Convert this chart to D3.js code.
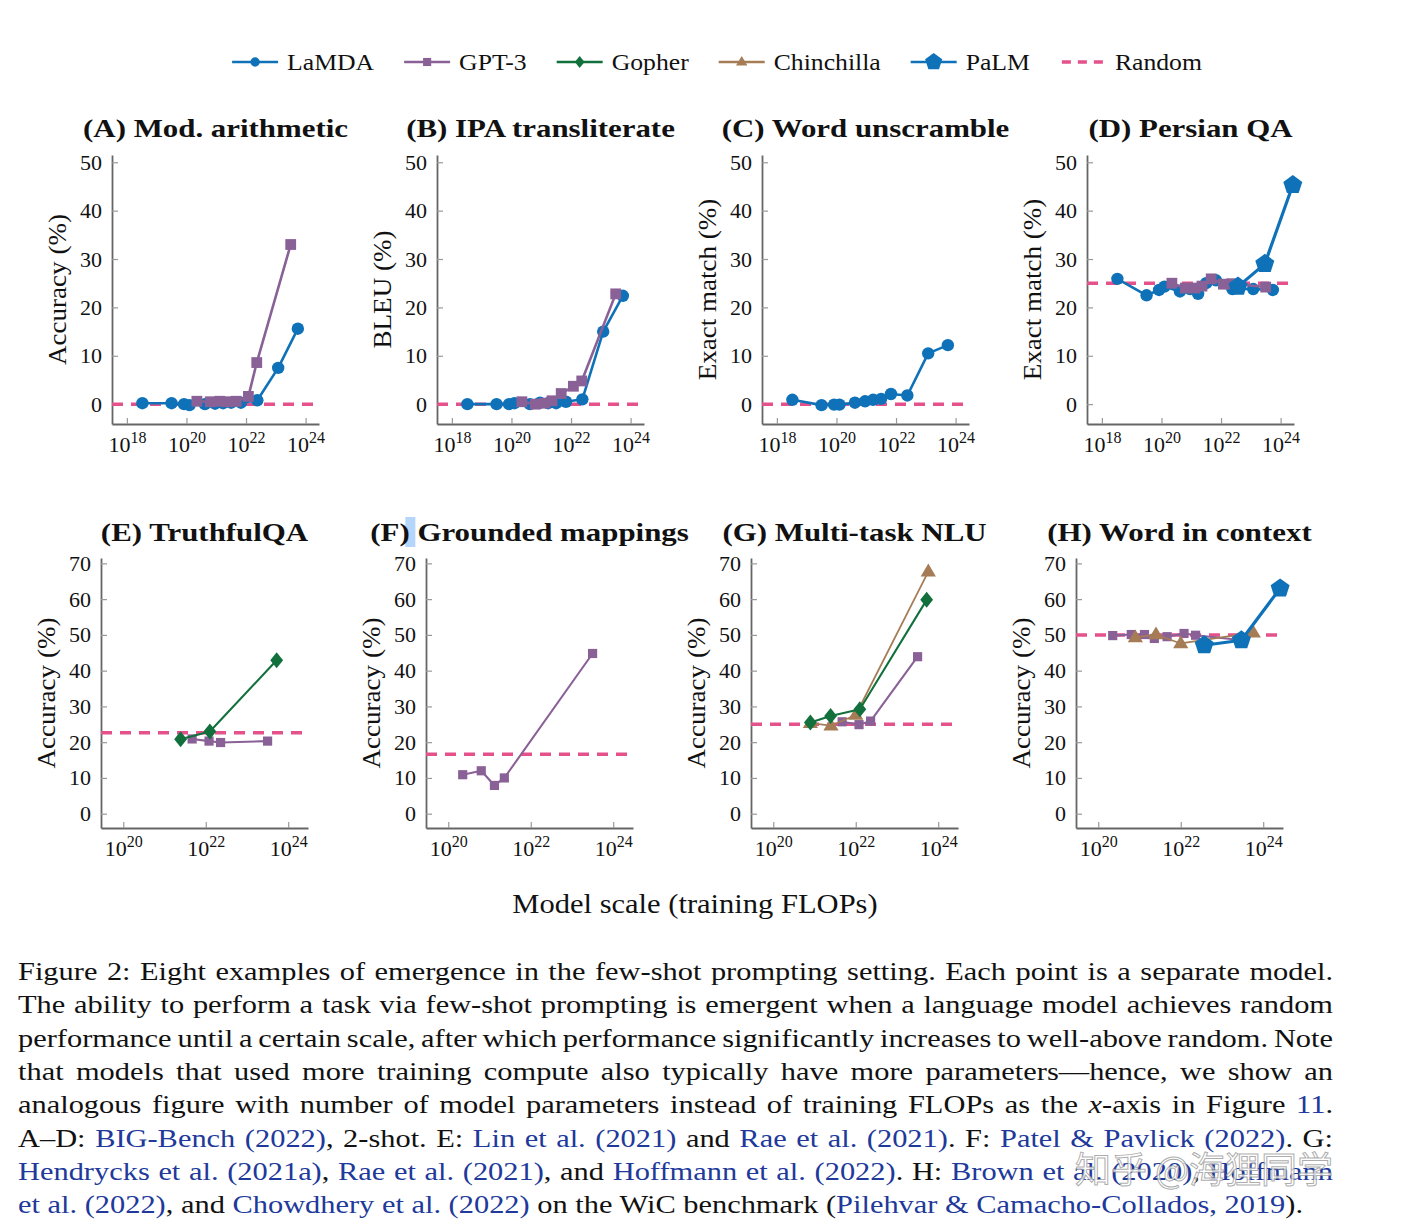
<!DOCTYPE html>
<html>
<head>
<meta charset="utf-8">
<script src="https://cdn.jsdelivr.net/npm/d3@7"></script>
<style>
  body { margin: 0; background: #fff; }
  text { font-family: "Liberation Serif", "DejaVu Serif", serif; fill: #111; }
</style>
</head>
<body>
<div id="chart"></div>
<script>
/* global d3 */

// Panels
const panelTitles = ['(A) Mod. arithmetic', '(B) IPA transliterate', '(C) Word unscramble', '(D) Persian QA',
  '(E) TruthfulQA', '(F) Grounded mappings', '(G) Multi-task NLU', '(H) Word in context']
const yLabels = ['Accuracy (%)', 'BLEU (%)', 'Exact match (%)', 'Exact match (%)',
  'Accuracy (%)', 'Accuracy (%)', 'Accuracy (%)', 'Accuracy (%)']
const topYTicks = [0, 10, 20, 30, 40, 50]
const bottomYTicks = [0, 10, 20, 30, 40, 50, 60, 70]
const topXTicks = [18, 20, 22, 24]
const bottomXTicks = [20, 22, 24]

// Training FLOPs of each model (log10)
const lamdaFlops = [18.52, 19.50, 19.92, 20.10, 20.62, 20.96, 21.23, 21.50, 21.83, 22.38, 23.08, 23.74]
const gpt3Flops = [20.35, 20.80, 21.12, 21.36, 21.67, 22.08, 22.36, 23.50]
const gopherFlops = [20.90, 21.39, 22.10, 23.72]
const chinchillaFlops = [20.90, 21.40, 22.00, 23.76]
const palmFlops = [22.57, 23.47, 24.41]

// Scores per panel (A..H), null = family not shown in that panel
const lamdaScores = [
  [0.2, 0.2, 0.0, -0.2, 0.0, 0.1, 0.2, 0.3, 0.3, 0.8, 7.5, 15.6],
  [0.0, 0.0, 0.0, 0.2, 0.0, 0.3, 0.2, 0.2, 0.5, 1.0, 15.0, 22.4],
  [0.9, -0.2, -0.1, -0.1, 0.3, 0.6, 0.9, 1.1, 2.1, 1.8, 10.5, 12.2],
  [25.9, 22.5, 23.6, 24.3, 23.3, 23.8, 22.8, 25.0, 25.6, 23.8, 23.8, 23.6],
  null, null, null, null
]
const gpt3Scores = [
  [0.6, 0.5, 0.6, 0.5, 0.6, 1.6, 8.6, 33.0],
  [0.5, 0.0, 0.2, 0.7, 2.2, 3.7, 4.8, 22.8],
  null,
  [25.0, 24.0, 24.0, 24.4, 25.9, 24.8, 24.9, 24.2],
  [null, null, null, null, 20.9, 20.3, 19.9, 20.3],
  [10.9, 12.0, 7.9, 10.0, null, null, null, 44.8],
  [null, null, null, null, 25.7, 24.9, 25.9, 43.9],
  [49.8, 50.1, 50.1, 49.0, 49.5, 50.4, 49.9, 48.5]
]
const gopherScores = [null, null, null, null, [null, 20.8, 23.0, 42.9], null, [25.5, 27.3, 29.2, 59.8], null]
const chinchillaScores = [null, null, null, null, null, null, [25.3, 24.6, 27.6, 67.7], [49.3, 50.1, 47.6, 50.6]]
const palmScores = [null, null, null, [24.3, 29.0, 45.3], null, null, null, [47.1, 48.5, 63.0]]
const randomScores = [0, 0, 0, 25, 22.6, 16.6, 25, 50]

// Legend
const legendNames = ['LaMDA', 'GPT-3', 'Gopher', 'Chinchilla', 'PaLM', 'Random']

// Caption lines: [text, kind] kind: 0 plain, 1 link, 2 italic
const captionLines = [
  [['Figure 2: Eight examples of emergence in the few-shot prompting setting. Each point is a separate model.', 0]],
  [['The ability to perform a task via few-shot prompting is emergent when a language model achieves random', 0]],
  [['performance until a certain scale, after which performance significantly increases to well-above random. Note', 0]],
  [['that models that used more training compute also typically have more parameters\u2014hence, we show an', 0]],
  [['analogous figure with number of model parameters instead of training FLOPs as the ', 0], ['x', 2], ['-axis in Figure ', 0], ['11', 1], ['.', 0]],
  [['A\u2013D: ', 0], ['BIG-Bench (2022)', 1], [', 2-shot. E: ', 0], ['Lin et al. (2021)', 1], [' and ', 0], ['Rae et al. (2021)', 1], ['. F: ', 0], ['Patel & Pavlick (2022)', 1], ['. G:', 0]],
  [['Hendrycks et al. (2021a)', 1], [', ', 0], ['Rae et al. (2021)', 1], [', and ', 0], ['Hoffmann et al. (2022)', 1], ['. H: ', 0], ['Brown et al. (2020)', 1], [', ', 0], ['Hoffmann', 1]],
  [['et al. (2022)', 1], [', and ', 0], ['Chowdhery et al. (2022)', 1], [' on the WiC benchmark (', 0], ['Pilehvar & Camacho-Collados, 2019', 1], [').', 0]]
]

// Styles
const styles = {
  'LaMDA': { color: '#0f72b8', shape: 'circle', size: 6.2, width: 2.6 },
  'GPT-3': { color: '#8a6196', shape: 'square', size: 5.4, width: 2.6 },
  'Gopher': { color: '#12703d', shape: 'diamond', size: 8, width: 2.6 },
  'Chinchilla': { color: '#a57c56', shape: 'triangle', size: 8, width: 2.2 },
  'PaLM': { color: '#0f72b8', shape: 'pentagon', size: 10, width: 3.2 },
  'Random': { color: '#e5528b' }
}

const width = 1422,
  height = 1230,
  panelW = 207

let svg = d3.select('#chart')
  .append('svg')
  .attr('width', width)
  .attr('height', height)

// widen a text like the extended Computer Modern faces of the original
let stretch = (sel, k) => {
  let n = sel.node().getComputedTextLength()
  sel.attr('textLength', n * k).attr('lengthAdjust', 'spacingAndGlyphs')
  return n * k
}

let polygon = (pts) => 'M' + pts.map(p => p.join(',')).join('L') + 'Z'

// marker of radius r for each shape
let markerPath = (name, k) => {
  let s = styles[name]
  let r = s.size * (k || 1)
  if (s.shape === 'circle') return d3.symbol(d3.symbolCircle, Math.PI * r * r)()
  if (s.shape === 'square') return polygon([[-r, -r], [r, -r], [r, r], [-r, r]])
  if (s.shape === 'diamond') return polygon([[0, -r], [r * 0.8, 0], [0, r], [-r * 0.8, 0]])
  if (s.shape === 'triangle') return polygon([[0, -r], [r * 0.95, r * 0.6], [-r * 0.95, r * 0.6]])
  return polygon(d3.range(5).map(j => {
    let a = -Math.PI / 2 + j * 2 * Math.PI / 5
    return [r * Math.cos(a), r * Math.sin(a)]
  }))
}

let seriesFor = (name) => ({
  'LaMDA': [lamdaFlops, lamdaScores],
  'GPT-3': [gpt3Flops, gpt3Scores],
  'Gopher': [gopherFlops, gopherScores],
  'Chinchilla': [chinchillaFlops, chinchillaScores],
  'PaLM': [palmFlops, palmScores]
}[name])

let drawPanel = (i) => {
  let row = Math.floor(i / 4), col = i % 4
  let left = (row ? 101 : 112) + col * 325
  let top = row ? 558 : 155
  let h = row ? 270 : 269

  let x = d3.scaleLog()
    .domain(row ? [Math.pow(10, 19.46), Math.pow(10, 24.48)] : [Math.pow(10, 17.5), Math.pow(10, 24.45)])
    .range([0, panelW])
  let y = d3.scaleLinear()
    .domain(row ? [-4, 71.5] : [-4.1, 51.5])
    .range([h, 0])

  let g = svg.append('g').attr('transform', `translate(${left},${top})`)

  // axes
  let yAxis = d3.axisLeft(y).tickValues(row ? bottomYTicks : topYTicks)
    .tickSize(-6).tickSizeOuter(0).tickPadding(10)
  let xAxis = d3.axisBottom(x).tickValues((row ? bottomXTicks : topXTicks).map(e => Math.pow(10, e)))
    .tickSize(-6).tickSizeOuter(0).tickFormat('')

  let ya = g.append('g').call(yAxis)
  let xa = g.append('g').attr('transform', `translate(0,${h})`).call(xAxis)
  ;[ya, xa].forEach(a => {
    a.attr('font-family', null).attr('font-size', null)
    a.select('.domain').attr('stroke', '#666').attr('stroke-width', 1.8)
    a.selectAll('.tick line').attr('stroke', '#999').attr('stroke-width', 1.2)
  })
  ya.selectAll('.tick text').style('font-size', '22px').attr('fill', '#111')
  xa.selectAll('.tick text').each(function (d) {
    let t = d3.select(this).attr('y', 28).attr('dy', null).style('font-size', '22px').attr('fill', '#111')
    t.append('tspan').text('10')
    t.append('tspan').attr('dy', -9).style('font-size', '16px').text(Math.round(Math.log10(d)))
  })

  // random baseline
  g.append('line')
    .attr('x1', 0).attr('x2', panelW)
    .attr('y1', y(randomScores[i])).attr('y2', y(randomScores[i]))
    .attr('stroke', styles.Random.color)
    .attr('stroke-width', 3.5)
    .attr('stroke-dasharray', '11,8')

  // model families
  ;['LaMDA', 'GPT-3', 'Chinchilla', 'Gopher', 'PaLM'].forEach(name => {
    let [flops, scores] = seriesFor(name)
    if (!scores[i]) return
    let pts = flops.map((f, j) => ({ x: Math.pow(10, f), v: scores[i][j] })).filter(d => d.v !== null)
    let s = styles[name]
    let k = row && name === 'GPT-3' ? 0.85 : 1
    g.append('path')
      .attr('d', d3.line().x(d => x(d.x)).y(d => y(d.v))(pts))
      .attr('fill', 'none')
      .attr('stroke', s.color)
      .attr('stroke-width', row && name !== 'PaLM' ? s.width * 0.8 : s.width)
      .attr('stroke-linejoin', 'round')
    g.selectAll(null)
      .data(pts)
      .enter()
      .append('path')
      .attr('d', markerPath(name, k))
      .attr('transform', d => `translate(${x(d.x)},${y(d.v)})`)
      .attr('fill', s.color)
  })

  // title
  let title = g.append('text')
    .attr('x', panelW / 2)
    .attr('y', row ? -17 : -18)
    .attr('text-anchor', 'middle')
    .style('font-size', '25px')
    .style('font-weight', 'bold')
    .text(panelTitles[i])
  stretch(title, 1.235)
  if (i === 5) {
    let gx = title.node().getStartPositionOfChar(panelTitles[i].indexOf('G')).x
    g.insert('rect', () => title.node())
      .attr('x', gx - 12).attr('y', row ? -41 : -42)
      .attr('width', 10).attr('height', 30)
      .attr('fill', '#b6d5fb')
  }

  // y label
  let yl = g.append('text')
    .attr('transform', `translate(-46,${h / 2}) rotate(-90)`)
    .attr('text-anchor', 'middle')
    .style('font-size', '26px')
    .text(yLabels[i])
  stretch(yl, 1.04)
}

d3.range(8).forEach(drawPanel)

// x label shared
let xl = svg.append('text')
  .attr('x', 695).attr('y', 913)
  .attr('text-anchor', 'middle')
  .style('font-size', '28px')
  .text('Model scale (training FLOPs)')
stretch(xl, 1.09)

// legend
let legend = svg.append('g')
let cx = 0
legendNames.forEach(name => {
  let s = styles[name]
  let item = legend.append('g').attr('transform', `translate(${cx},0)`)
  if (name === 'Random') {
    item.append('line').attr('x1', 2).attr('x2', 46).attr('y1', 0).attr('y2', 0)
      .attr('stroke', s.color).attr('stroke-width', 3.5).attr('stroke-dasharray', '9,7')
  } else {
    item.append('line').attr('x1', 0).attr('x2', 46).attr('y1', 0).attr('y2', 0)
      .attr('stroke', s.color).attr('stroke-width', 2.6)
    item.append('path').attr('d', markerPath(name, name === 'PaLM' ? 0.9 : 0.75))
      .attr('transform', 'translate(23,0)').attr('fill', s.color)
  }
  let t = item.append('text').attr('x', 55).attr('y', 8).style('font-size', '24px').text(name)
  let w = stretch(t, 1.07)
  cx += 55 + w + 30
})
legend.attr('transform', `translate(${717 - (cx - 30) / 2},62)`)

// caption: widened glyphs, justified with word spacing
const capScale = 1.17
captionLines.forEach((segs, li) => {
  let t = svg.append('text')
    .attr('transform', `translate(18,${980 + li * 33.3}) scale(${capScale},1)`)
    .style('font-size', '26px')
  segs.forEach(([txt, kind]) => {
    let ts = t.append('tspan').text(txt)
    if (kind === 1) ts.style('fill', '#20399a')
    if (kind === 2) ts.style('font-style', 'italic')
  })
  if (li < captionLines.length - 1) {
    let natural = t.node().getComputedTextLength()
    let spaces = segs.map(s => s[0]).join('').split(' ').length - 1
    t.style('word-spacing', ((1315 / capScale - natural) / spaces) + 'px')
  }
})

// watermark
svg.append('text')
  .attr('x', 1075).attr('y', 1183)
  .style('font-family', '"Noto Sans CJK SC", sans-serif')
  .style('font-size', '36px')
  .style('fill', '#fff')
  .style('fill-opacity', 0.75)
  .attr('stroke', '#888')
  .attr('stroke-opacity', 0.7)
  .attr('stroke-width', 1)
  .text('知乎 @海狸同学')
</script>
</body>
</html>
